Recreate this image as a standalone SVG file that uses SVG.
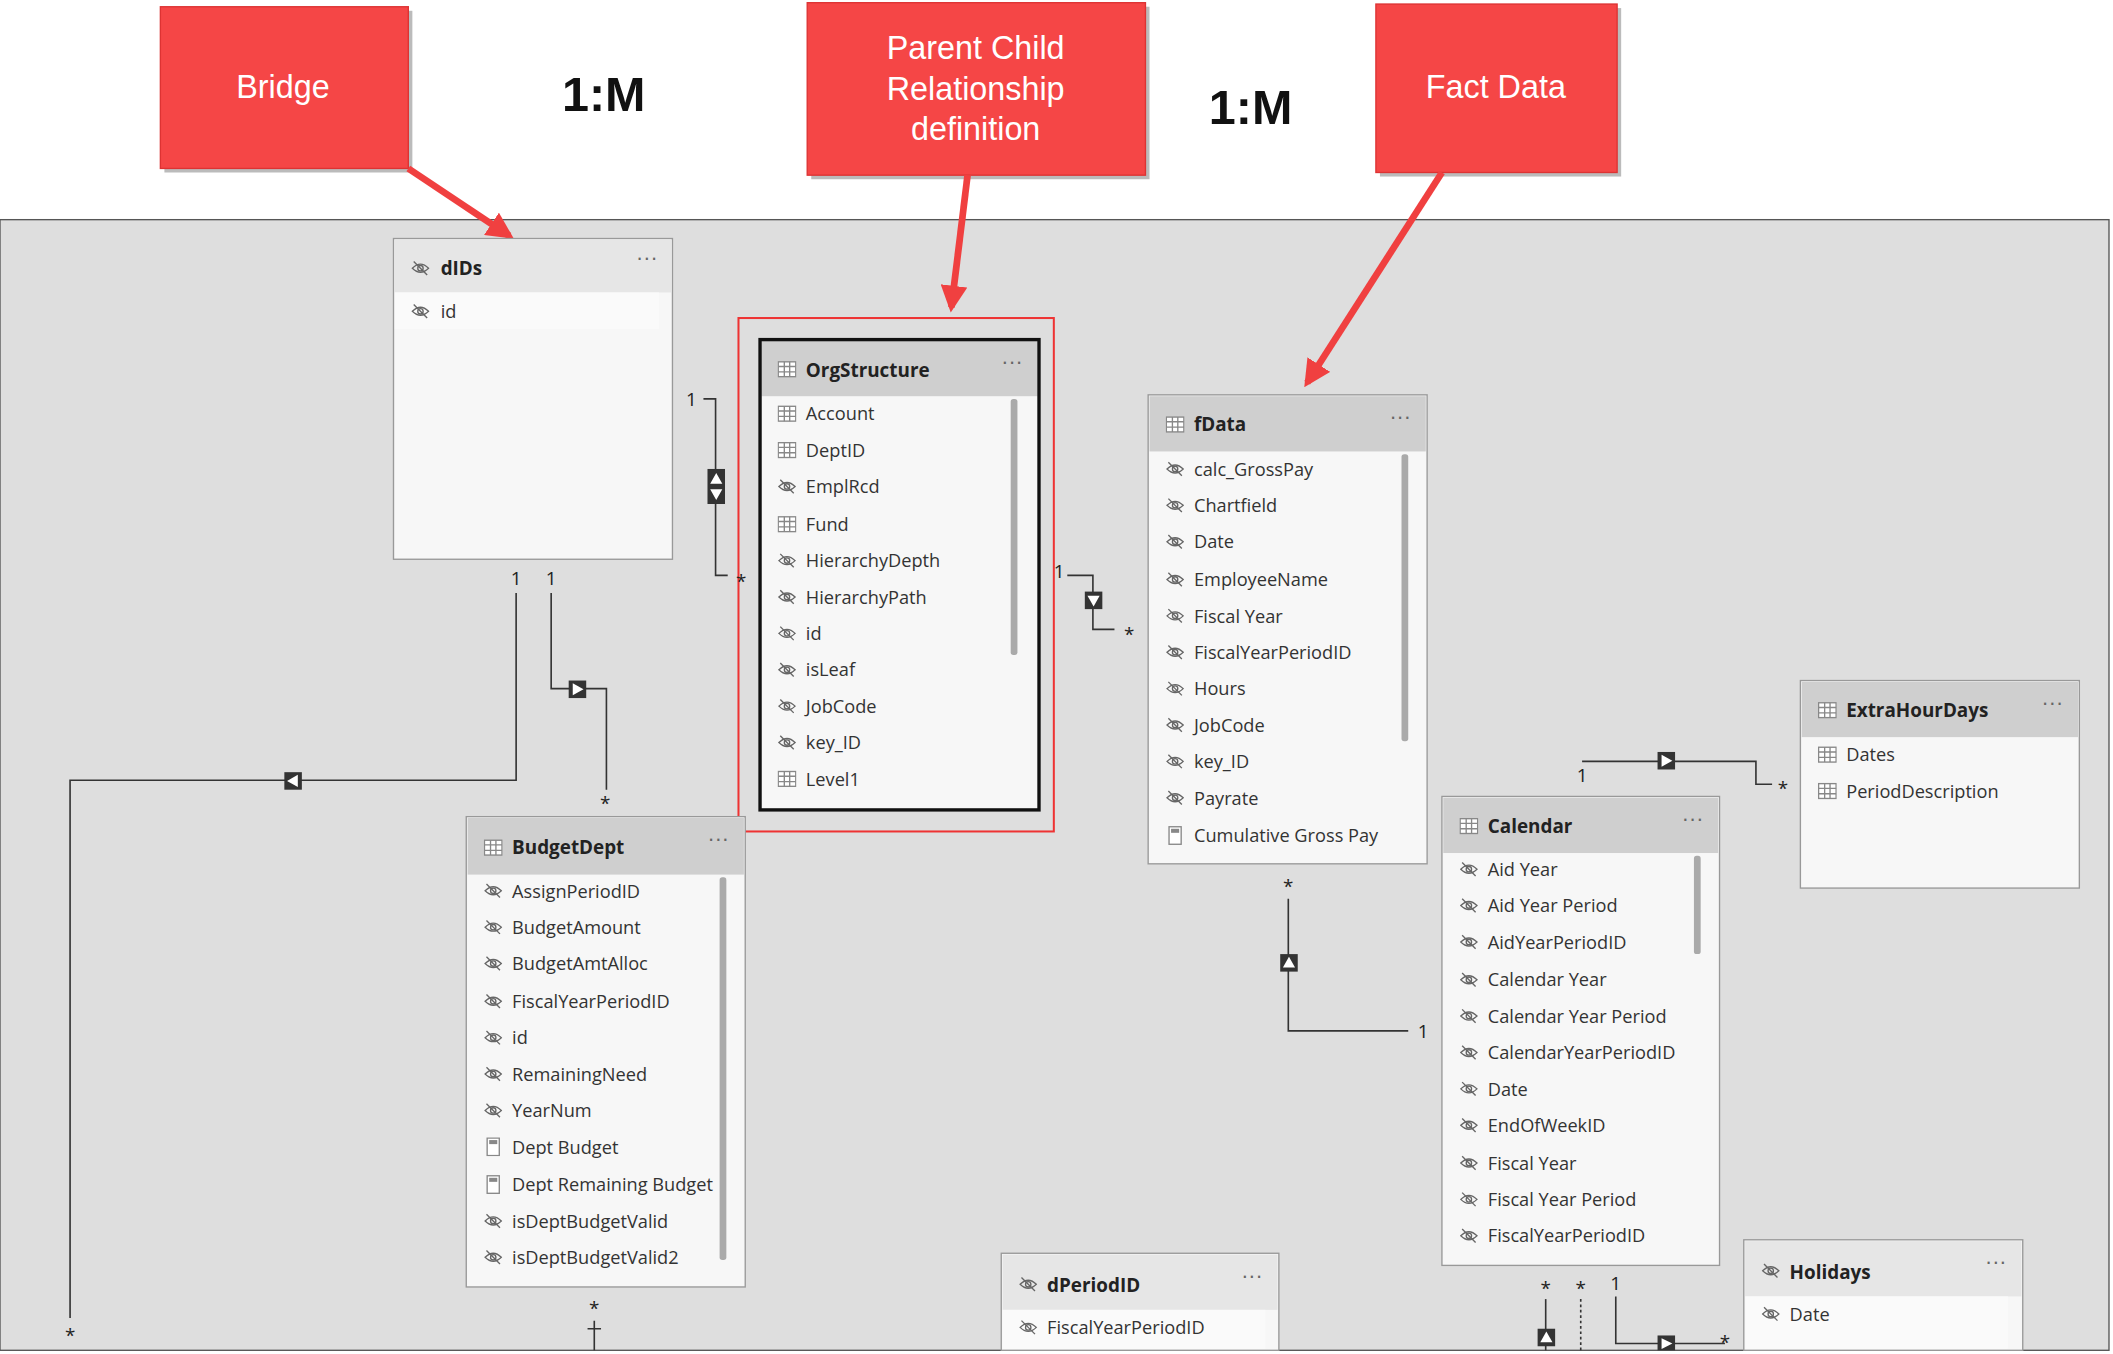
<svg xmlns="http://www.w3.org/2000/svg" xmlns:xlink="http://www.w3.org/1999/xlink" width="2113" height="1354" viewBox="0 0 2113 1354">
<style>
.call{fill:#f54646;stroke:#d33;stroke-width:1}
.ct{font-family:"Liberation Sans",Arial,sans-serif;font-size:24px;fill:#fff;text-anchor:middle}
.rel{font-family:"Liberation Sans",Arial,sans-serif;font-size:36px;font-weight:bold;fill:#111;text-anchor:middle}
.ra{stroke:#f04040;stroke-width:5;fill:none;marker-end:url(#ra)}
.body{fill:#f7f7f7;stroke:#999;stroke-width:1}
.hd{fill:#cfcfcf}
.hdl{fill:#e6e6e6}
.tt{font-family:"Open Sans","Noto Sans",sans-serif;font-size:14px;font-weight:bold;fill:#222}
.it{font-family:"Open Sans","Noto Sans",sans-serif;font-size:13.5px;fill:#333}
.dots{font-family:"Liberation Sans",sans-serif;font-size:16px;fill:#666}
.sb{fill:#aaa}
.cn{stroke:#333;stroke-width:1.2;fill:none}
.lb{font-family:"Open Sans","Noto Sans",sans-serif;font-size:14px;fill:#222;text-anchor:middle}
.bx{fill:#333}
</style>
<defs>
<marker id="ra" viewBox="0 0 10 10" refX="8" refY="5" markerWidth="4" markerHeight="4" orient="auto"><path d="M0 0L10 5L0 10z" fill="#f04040"/></marker>
<symbol id="eye" viewBox="0 0 14 14"><path d="M1 7Q7 1 13 7Q7 13 1 7Z" fill="none" stroke="#666" stroke-width="1"/><circle cx="7" cy="7" r="2" fill="none" stroke="#666"/><line x1="2" y1="2" x2="12" y2="12" stroke="#666"/></symbol>
<symbol id="tbl" viewBox="0 0 14 14"><rect x="0.5" y="1.5" width="13" height="11" fill="#fff" stroke="#888"/><path d="M0.5 5H13.5M0.5 9H13.5M5 1.5V12.5M9 1.5V12.5" stroke="#888" fill="none"/></symbol>
<symbol id="calc" viewBox="0 0 14 14"><rect x="2.5" y="0.5" width="9" height="13" fill="#fff" stroke="#888"/><rect x="4" y="2" width="6" height="3" fill="#888"/></symbol>
</defs>
<rect width="2113" height="1354" fill="#fff"/>
<g transform="scale(1.3476)">
<rect x="0" y="163" width="1565" height="839" fill="#dedede" stroke="#555"/>

<g id="callouts">
<rect x="122" y="8" width="184" height="120" fill="#bbb"/><rect x="602" y="5" width="251" height="128" fill="#bbb"/><rect x="1024" y="6" width="179" height="125" fill="#bbb"/>
<rect class="call" x="119" y="5" width="184" height="120"/><text class="ct" x="210" y="73">Bridge</text>
<rect class="call" x="599" y="2" width="251" height="128"/>
<text class="ct" x="724" y="44">Parent Child</text><text class="ct" x="724" y="74">Relationship</text><text class="ct" x="724" y="104">definition</text>
<rect class="call" x="1021" y="3" width="179" height="125"/><text class="ct" x="1110" y="73">Fact Data</text>
<text class="rel" x="448" y="82">1:M</text><text class="rel" x="928" y="92">1:M</text>
<path class="ra" d="M303 125L378 175"/><path class="ra" d="M718 130L706 228"/><path class="ra" d="M1070 128L970 284"/>
</g>

<g id="dIDs">
<rect class="body" x="292" y="177" width="207" height="238"/><rect class="hdl" x="293" y="178" width="205" height="39"/>
<use href="#eye" x="305" y="192" width="14" height="14"/><text class="tt" x="327" y="204">dIDs</text><text class="dots" x="472" y="197">···</text>
<rect x="293" y="217" width="196" height="27" fill="#fafafa"/>
<use href="#eye" x="305" y="224" width="14" height="14"/><text class="it" x="327" y="236">id</text>
</g>

<g id="OrgStructure">
<rect x="548" y="236" width="234" height="381" fill="none" stroke="#e33" stroke-width="1.5"/>
<rect x="564" y="252" width="207" height="349" fill="#f7f7f7"/><rect class="hd" x="565" y="253" width="205" height="41"/>
<use href="#tbl" x="577" y="267" width="14" height="14"/><text class="tt" x="598" y="280">OrgStructure</text><text class="dots" x="743" y="274">···</text>
<rect class="sb" x="750" y="296" width="5" height="190" rx="2"/>
<use href="#tbl" x="577" y="300" width="14" height="14"/><text class="it" x="598" y="312">Account</text>
<use href="#tbl" x="577" y="327" width="14" height="14"/><text class="it" x="598" y="339">DeptID</text>
<use href="#eye" x="577" y="354" width="14" height="14"/><text class="it" x="598" y="366">EmplRcd</text>
<use href="#tbl" x="577" y="382" width="14" height="14"/><text class="it" x="598" y="394">Fund</text>
<use href="#eye" x="577" y="409" width="14" height="14"/><text class="it" x="598" y="421">HierarchyDepth</text>
<use href="#eye" x="577" y="436" width="14" height="14"/><text class="it" x="598" y="448">HierarchyPath</text>
<use href="#eye" x="577" y="463" width="14" height="14"/><text class="it" x="598" y="475">id</text>
<use href="#eye" x="577" y="490" width="14" height="14"/><text class="it" x="598" y="502">isLeaf</text>
<use href="#eye" x="577" y="517" width="14" height="14"/><text class="it" x="598" y="529">JobCode</text>
<use href="#eye" x="577" y="544" width="14" height="14"/><text class="it" x="598" y="556">key_ID</text>
<use href="#tbl" x="577" y="571" width="14" height="14"/><text class="it" x="598" y="583">Level1</text>
<rect x="564" y="252" width="207" height="349" fill="none" stroke="#111" stroke-width="2.5"/>
</g>

<g id="fData">
<rect class="body" x="852" y="293" width="207" height="348"/><rect class="hd" x="853" y="294" width="205" height="41"/>
<use href="#tbl" x="865" y="308" width="14" height="14"/><text class="tt" x="886" y="320">fData</text><text class="dots" x="1031" y="315">···</text>
<rect class="sb" x="1040" y="337" width="5" height="213" rx="2"/>
<use href="#eye" x="865" y="341" width="14" height="14"/><text class="it" x="886" y="353">calc_GrossPay</text>
<use href="#eye" x="865" y="368" width="14" height="14"/><text class="it" x="886" y="380">Chartfield</text>
<use href="#eye" x="865" y="395" width="14" height="14"/><text class="it" x="886" y="407">Date</text>
<use href="#eye" x="865" y="423" width="14" height="14"/><text class="it" x="886" y="435">EmployeeName</text>
<use href="#eye" x="865" y="450" width="14" height="14"/><text class="it" x="886" y="462">Fiscal Year</text>
<use href="#eye" x="865" y="477" width="14" height="14"/><text class="it" x="886" y="489">FiscalYearPeriodID</text>
<use href="#eye" x="865" y="504" width="14" height="14"/><text class="it" x="886" y="516">Hours</text>
<use href="#eye" x="865" y="531" width="14" height="14"/><text class="it" x="886" y="543">JobCode</text>
<use href="#eye" x="865" y="558" width="14" height="14"/><text class="it" x="886" y="570">key_ID</text>
<use href="#eye" x="865" y="585" width="14" height="14"/><text class="it" x="886" y="597">Payrate</text>
<use href="#calc" x="865" y="613" width="14" height="14"/><text class="it" x="886" y="625">Cumulative Gross Pay</text>
</g>

<g id="ExtraHourDays">
<rect class="body" x="1336" y="505" width="207" height="154"/><rect class="hd" x="1337" y="506" width="205" height="41"/>
<use href="#tbl" x="1349" y="520" width="14" height="14"/><text class="tt" x="1370" y="532">ExtraHourDays</text><text class="dots" x="1515" y="527">···</text>
<use href="#tbl" x="1349" y="553" width="14" height="14"/><text class="it" x="1370" y="565">Dates</text>
<use href="#tbl" x="1349" y="580" width="14" height="14"/><text class="it" x="1370" y="592">PeriodDescription</text>
</g>

<g id="Calendar">
<rect class="body" x="1070" y="591" width="206" height="348"/><rect class="hd" x="1071" y="592" width="204" height="41"/>
<use href="#tbl" x="1083" y="606" width="14" height="14"/><text class="tt" x="1104" y="618">Calendar</text><text class="dots" x="1248" y="613">···</text>
<rect class="sb" x="1257" y="635" width="5" height="73" rx="2"/>
<use href="#eye" x="1083" y="638" width="14" height="14"/><text class="it" x="1104" y="650">Aid Year</text>
<use href="#eye" x="1083" y="665" width="14" height="14"/><text class="it" x="1104" y="677">Aid Year Period</text>
<use href="#eye" x="1083" y="692" width="14" height="14"/><text class="it" x="1104" y="704">AidYearPeriodID</text>
<use href="#eye" x="1083" y="720" width="14" height="14"/><text class="it" x="1104" y="732">Calendar Year</text>
<use href="#eye" x="1083" y="747" width="14" height="14"/><text class="it" x="1104" y="759">Calendar Year Period</text>
<use href="#eye" x="1083" y="774" width="14" height="14"/><text class="it" x="1104" y="786">CalendarYearPeriodID</text>
<use href="#eye" x="1083" y="801" width="14" height="14"/><text class="it" x="1104" y="813">Date</text>
<use href="#eye" x="1083" y="828" width="14" height="14"/><text class="it" x="1104" y="840">EndOfWeekID</text>
<use href="#eye" x="1083" y="856" width="14" height="14"/><text class="it" x="1104" y="868">Fiscal Year</text>
<use href="#eye" x="1083" y="883" width="14" height="14"/><text class="it" x="1104" y="895">Fiscal Year Period</text>
<use href="#eye" x="1083" y="910" width="14" height="14"/><text class="it" x="1104" y="922">FiscalYearPeriodID</text>
</g>

<g id="BudgetDept">
<rect class="body" x="346" y="606" width="207" height="349"/><rect class="hd" x="347" y="607" width="205" height="42"/>
<use href="#tbl" x="359" y="622" width="14" height="14"/><text class="tt" x="380" y="634">BudgetDept</text><text class="dots" x="525" y="628">···</text>
<rect class="sb" x="534" y="651" width="5" height="284" rx="2"/>
<use href="#eye" x="359" y="654" width="14" height="14"/><text class="it" x="380" y="666">AssignPeriodID</text>
<use href="#eye" x="359" y="681" width="14" height="14"/><text class="it" x="380" y="693">BudgetAmount</text>
<use href="#eye" x="359" y="708" width="14" height="14"/><text class="it" x="380" y="720">BudgetAmtAlloc</text>
<use href="#eye" x="359" y="736" width="14" height="14"/><text class="it" x="380" y="748">FiscalYearPeriodID</text>
<use href="#eye" x="359" y="763" width="14" height="14"/><text class="it" x="380" y="775">id</text>
<use href="#eye" x="359" y="790" width="14" height="14"/><text class="it" x="380" y="802">RemainingNeed</text>
<use href="#eye" x="359" y="817" width="14" height="14"/><text class="it" x="380" y="829">YearNum</text>
<use href="#calc" x="359" y="844" width="14" height="14"/><text class="it" x="380" y="856">Dept Budget</text>
<use href="#calc" x="359" y="872" width="14" height="14"/><text class="it" x="380" y="884">Dept Remaining Budget</text>
<use href="#eye" x="359" y="899" width="14" height="14"/><text class="it" x="380" y="911">isDeptBudgetValid</text>
<use href="#eye" x="359" y="926" width="14" height="14"/><text class="it" x="380" y="938">isDeptBudgetValid2</text>
</g>

<g id="dPeriodID">
<rect class="body" x="743" y="930" width="206" height="72"/><rect class="hdl" x="744" y="931" width="204" height="41"/>
<use href="#eye" x="756" y="946" width="14" height="14"/><text class="tt" x="777" y="959">dPeriodID</text><text class="dots" x="921" y="952">···</text>
<rect x="744" y="972" width="195" height="29" fill="#fafafa"/>
<use href="#eye" x="756" y="978" width="14" height="14"/><text class="it" x="777" y="990">FiscalYearPeriodID</text>
</g>

<g id="Holidays">
<rect class="body" x="1294" y="920" width="207" height="82"/><rect class="hdl" x="1295" y="921" width="205" height="41"/>
<use href="#eye" x="1307" y="936" width="14" height="14"/><text class="tt" x="1328" y="949">Holidays</text><text class="dots" x="1473" y="942">···</text>
<rect x="1295" y="962" width="195" height="39" fill="#fafafa"/>
<use href="#eye" x="1307" y="968" width="14" height="14"/><text class="it" x="1328" y="980">Date</text>
</g>

<g id="connectors">
<path class="cn" d="M522 296H531V427H540"/><rect class="bx" x="525" y="348" width="13" height="26"/>
<path d="M527 359L531.5 351L536 359Z M527 363L536 363L531.5 371Z" fill="#fff"/>
<text class="lb" x="513" y="301">1</text><text class="lb" x="550" y="436">*</text>

<path class="cn" d="M792 427H811V467H827"/><rect class="bx" x="805" y="439" width="13" height="13"/>
<path d="M807 442H816L811.5 450Z" fill="#fff"/>
<text class="lb" x="786" y="429">1</text><text class="lb" x="838" y="476">*</text>

<path class="cn" d="M409 440V511H450V586"/><rect class="bx" x="422" y="505" width="13" height="13"/>
<path d="M425 507V516L433 511.5Z" fill="#fff"/>
<text class="lb" x="409" y="434">1</text><text class="lb" x="449" y="601">*</text>

<path class="cn" d="M383 440V579H52V978"/><rect class="bx" x="211" y="573" width="13" height="13"/>
<path d="M221 575V584L213 579.5Z" fill="#fff"/>
<text class="lb" x="383" y="434">1</text><text class="lb" x="52" y="996">*</text>

<path class="cn" d="M956 667V765H1045"/><rect class="bx" x="950" y="708" width="13" height="13"/>
<path d="M952 718H961L956.5 710Z" fill="#fff"/>
<text class="lb" x="956" y="663">*</text><text class="lb" x="1056" y="770">1</text>

<path class="cn" d="M1174 565H1303V582H1315"/><rect class="bx" x="1230" y="558" width="13" height="13"/>
<path d="M1233 560V569L1241 564.5Z" fill="#fff"/>
<text class="lb" x="1174" y="580">1</text><text class="lb" x="1323" y="590">*</text>

<path class="cn" d="M441 980V1002M436 986H446"/>
<text class="lb" x="441" y="976">*</text>

<path class="cn" d="M1147 964V1002"/><rect class="bx" x="1141" y="986" width="13" height="13"/>
<path d="M1143 996H1152L1147.5 988Z" fill="#fff"/>
<path class="cn" d="M1173 964V1002" stroke-dasharray="2 2"/>
<path class="cn" d="M1199 962V997H1280"/><rect class="bx" x="1230" y="991" width="13" height="11"/>
<path d="M1233 993V1001L1241 997Z" fill="#fff"/>
<text class="lb" x="1147" y="961">*</text><text class="lb" x="1173" y="961">*</text><text class="lb" x="1199" y="957">1</text><text class="lb" x="1280" y="1001">*</text>
</g>
</g>
</svg>
